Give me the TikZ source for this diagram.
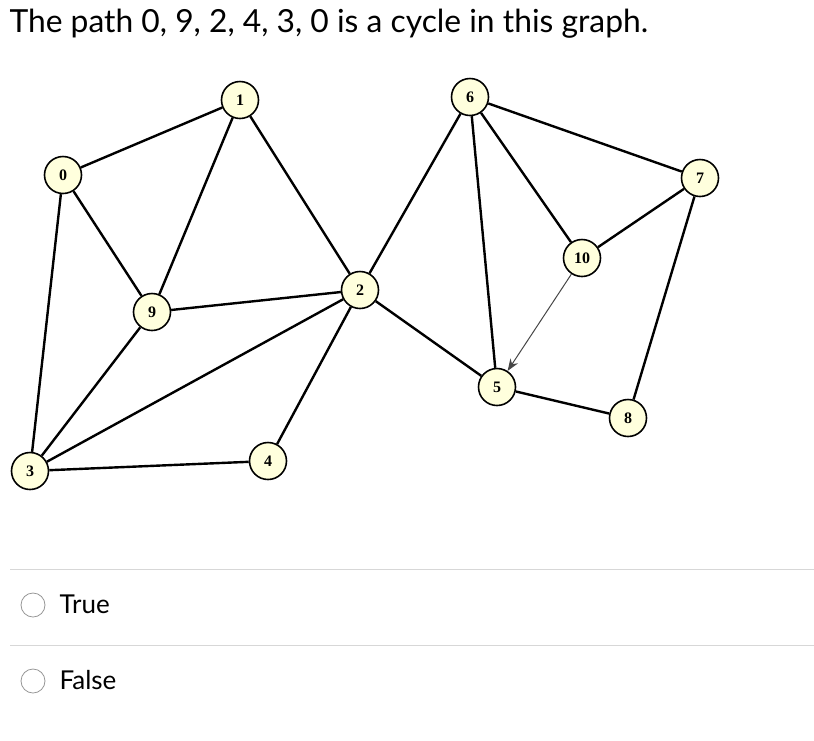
\documentclass[tikz,border=0pt]{standalone}
\usepackage{fontspec}
\setmainfont{Lato}
\newfontfamily\nodefont{Liberation Serif}
\usetikzlibrary{arrows.meta}
\begin{document}
\begin{tikzpicture}[x=1pt,y=-1pt,
  vtx/.style={circle,draw=black,line width=1.6pt,fill={rgb,255:red,255;green,255;blue,221},minimum size=37pt,inner sep=0pt,font=\nodefont\bfseries\fontsize{16}{16}\selectfont},
  edge/.style={line width=2.4pt},
  radio/.style={circle,draw={rgb,255:red,150;green,150;blue,150},line width=0.8pt,minimum size=24pt,inner sep=0pt}]
\useasboundingbox (0,0) rectangle (814,740);
\node[anchor=west,font=\fontsize{31.8}{36}\selectfont] (title) at (6,24) {The path 0, 9, 2, 4, 3, 0 is a cycle in this graph.};
\node[vtx] (n0) at (63,175) {0};
\node[vtx] (n1) at (240,100) {1};
\node[vtx] (n6) at (470,97) {6};
\node[vtx] (n7) at (700,178) {7};
\node[vtx] (n10) at (582,258) {10};
\node[vtx] (n2) at (360,290) {2};
\node[vtx] (n9) at (152,312) {9};
\node[vtx] (n5) at (497,387) {5};
\node[vtx] (n8) at (628,418) {8};
\node[vtx] (n3) at (30,471) {3};
\node[vtx] (n4) at (268,461) {4};
\foreach \a/\b in {n0/n1,n0/n9,n0/n3,n1/n9,n1/n2,n9/n2,n9/n3,n3/n2,n3/n4,n4/n2,n2/n6,n2/n5,n6/n5,n6/n10,n6/n7,n7/n10,n7/n8,n8/n5}
  \draw[edge] (\a) -- (\b);
\draw[-{Stealth[length=12pt,width=9pt]},line width=1pt,draw={rgb,255:red,70;green,70;blue,70}] (n10) -- (n5);
\coordinate (l1a) at (10,569); \coordinate (l1b) at (814,569);
\coordinate (l2a) at (10,645); \coordinate (l2b) at (814,645);
\draw[draw={rgb,255:red,215;green,215;blue,215},line width=1pt] (l1a) -- (l1b);
\draw[draw={rgb,255:red,215;green,215;blue,215},line width=1pt] (l2a) -- (l2b);
\node[radio] (r1) at (33,605) {};
\node[radio] (r2) at (33,681) {};
\node[anchor=west,font=\fontsize{26}{30}\selectfont] (t) at (56,604) {True};
\node[anchor=west,font=\fontsize{26}{30}\selectfont] (f) at (56,680) {False};
\end{tikzpicture}
\end{document}
